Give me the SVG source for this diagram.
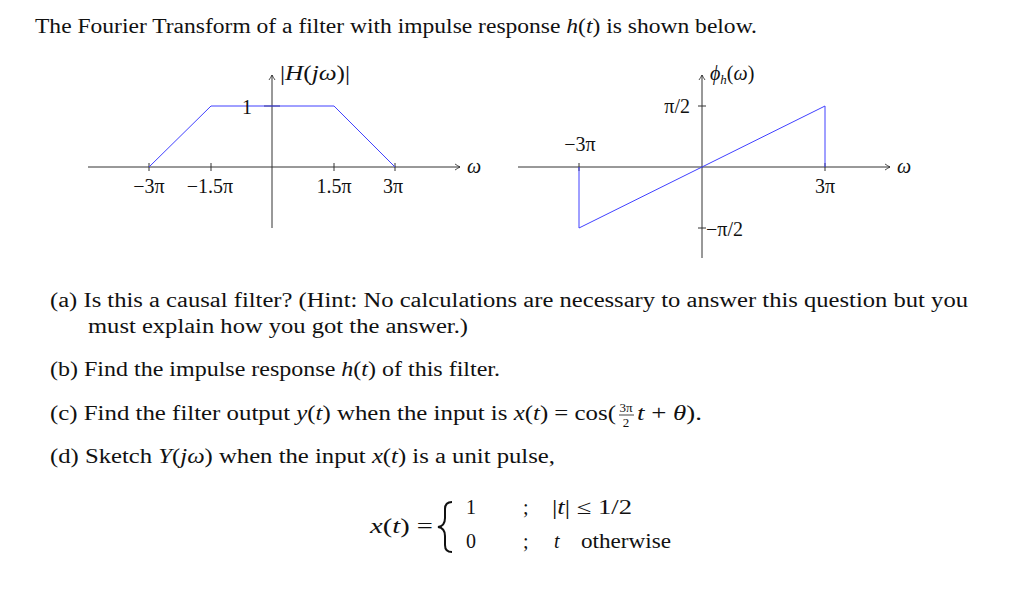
<svg xmlns="http://www.w3.org/2000/svg" width="1024" height="601" viewBox="0 0 1024 601">
<defs>
<marker id="ar" markerWidth="8" markerHeight="8" refX="6" refY="4" orient="auto" markerUnits="userSpaceOnUse"><path d="M1,1 Q4,3 6,4 Q4,5 1,7" fill="none" stroke="#222" stroke-width="0.8"/></marker>
</defs>
<style>
text{font-family:"Liberation Serif","DejaVu Serif",serif;font-size:20px;fill:#111}
.i{font-style:italic}
.ax{stroke:#333;stroke-width:1;fill:none}
.bl{stroke:#4040ff;stroke-width:1;fill:none}
.sm{font-size:13px}
</style>
<rect width="1024" height="601" fill="#fff"/>
<text x="35" y="33" textLength="722" lengthAdjust="spacingAndGlyphs">The Fourier Transform of a filter with impulse response <tspan class="i">h</tspan>(<tspan class="i">t</tspan>) is shown below.</text>
<g id="mag">
<line class="ax" x1="88" y1="167" x2="460" y2="167" marker-end="url(#ar)"/>
<line class="ax" x1="272" y1="228" x2="272" y2="75" marker-end="url(#ar)"/>
<path class="ax" d="M149,163V171M211,163V171M334,163V171M395,163V171M264,106H280"/>
<polyline class="bl" points="149,167 211,106 334,106 395,167"/>
<text x="467" y="173" class="i">ω</text>
<text x="280" y="80" textLength="70" lengthAdjust="spacingAndGlyphs">|<tspan class="i">H</tspan>(<tspan class="i">jω</tspan>)|</text>
<text x="252" y="114" text-anchor="end">1</text>
<text x="149" y="193" text-anchor="middle">−3π</text>
<text x="210" y="193" text-anchor="middle">−1.5π</text>
<text x="334" y="193" text-anchor="middle">1.5π</text>
<text x="393" y="193" text-anchor="middle">3π</text>
</g>
<g id="phase">
<line class="ax" x1="518" y1="167" x2="890" y2="167" marker-end="url(#ar)"/>
<line class="ax" x1="702" y1="258" x2="702" y2="75" marker-end="url(#ar)"/>
<path class="ax" d="M579,163V171M825,163V171M698,106H706M698,228H706"/>
<polyline class="bl" points="579,167 579,228 825,106 825,167"/>
<text x="897" y="173" class="i">ω</text>
<text x="710" y="80"><tspan class="i">ϕ</tspan><tspan class="i sm" dy="4">h</tspan><tspan dy="-4">(</tspan><tspan class="i">ω</tspan>)</text>
<text x="690" y="113" text-anchor="end">π/2</text>
<text x="580" y="151" text-anchor="middle">−3π</text>
<text x="825" y="193" text-anchor="middle">3π</text>
<text x="706" y="236">−π/2</text>
</g>
<text x="50" y="307" textLength="918" lengthAdjust="spacingAndGlyphs">(a)  Is this a causal filter? (Hint: No calculations are necessary to answer this question but you</text>
<text x="88" y="333" textLength="380" lengthAdjust="spacingAndGlyphs">must explain how you got the answer.)</text>
<text x="50" y="376" textLength="450" lengthAdjust="spacingAndGlyphs">(b)  Find the impulse response <tspan class="i">h</tspan>(<tspan class="i">t</tspan>) of this filter.</text>
<text x="50" y="420" textLength="566" lengthAdjust="spacingAndGlyphs">(c)  Find the filter output <tspan class="i">y</tspan>(<tspan class="i">t</tspan>) when the input is <tspan class="i">x</tspan>(<tspan class="i">t</tspan>) = cos(</text>
<text x="626" y="412" class="sm" text-anchor="middle">3π</text>
<line x1="619" y1="415" x2="634" y2="415" stroke="#111" stroke-width="0.8"/>
<text x="626" y="427" class="sm" text-anchor="middle">2</text>
<text x="637" y="420" textLength="65" lengthAdjust="spacingAndGlyphs"><tspan class="i">t</tspan> + <tspan class="i">θ</tspan>).</text>
<text x="50" y="463" textLength="505" lengthAdjust="spacingAndGlyphs">(d)  Sketch <tspan class="i">Y</tspan>(<tspan class="i">jω</tspan>) when the input <tspan class="i">x</tspan>(<tspan class="i">t</tspan>) is a unit pulse,</text>
<text x="370" y="533" textLength="63" lengthAdjust="spacingAndGlyphs"><tspan class="i">x</tspan>(<tspan class="i">t</tspan>) =</text>
<path d="M452,502 Q445,502 445,509 V518 Q445,526 438,527 Q445,528 445,536 V545 Q445,552 452,552" fill="none" stroke="#111" stroke-width="2"/>
<text x="466" y="514">1</text><text x="523" y="514">;</text><text x="552" y="514" textLength="80" lengthAdjust="spacingAndGlyphs">|<tspan class="i">t</tspan>| ≤ 1/2</text>
<text x="466" y="548">0</text><text x="523" y="548">;</text><text x="554" y="548" class="i">t</text><text x="581" y="548" textLength="90" lengthAdjust="spacingAndGlyphs">otherwise</text>
</svg>
